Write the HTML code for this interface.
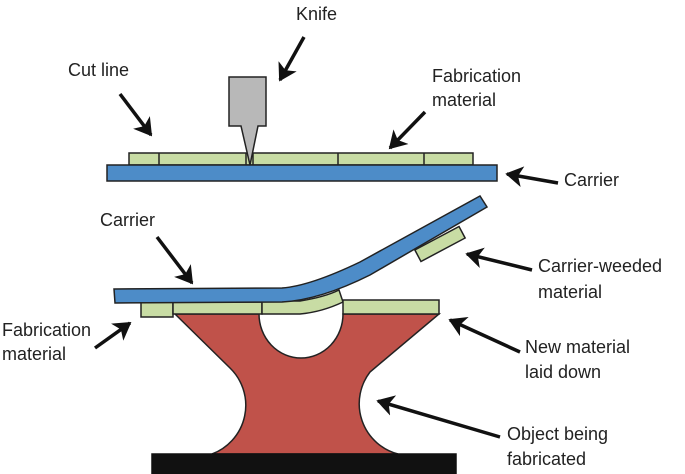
<!DOCTYPE html>
<html><head><meta charset="utf-8"><style>
html,body{margin:0;padding:0;background:#fff;}
svg{display:block;}
text{font-family:"Liberation Sans",sans-serif;font-size:18px;fill:#222;}
</style></head><body>
<svg width="685" height="474" viewBox="0 0 685 474" xmlns="http://www.w3.org/2000/svg">
<defs>
<marker id="a" markerWidth="6" markerHeight="6" refX="4.5" refY="3" orient="auto" markerUnits="strokeWidth">
<path d="M0,0 L5,3 L0,6 L1.3,3 Z" fill="#111"/>
</marker>
</defs>
<g stroke="#222" stroke-width="1.5">
<rect x="129" y="153" width="344" height="12" fill="#c8dca4"/>
<line x1="159" y1="153" x2="159" y2="165"/>
<line x1="246" y1="153" x2="246" y2="165"/>
<line x1="253" y1="153" x2="253" y2="165"/>
<line x1="338" y1="153" x2="338" y2="165"/>
<line x1="424" y1="153" x2="424" y2="165"/>
<rect x="107" y="165" width="390" height="16" fill="#4d8cc8"/>
<path d="M229,77 H266 V126 H258 L250,165 L241,126 H229 Z" fill="#b8b8b8"/>
<path d="M175,314 L230,368 A52,52 0 0 1 212,454 L398,454 A52,52 0 0 1 370,372 L439,314 L343,314 A42,44 0 0 1 259,314 Z" fill="#c0524a"/>
<rect x="152" y="454" width="304" height="20" fill="#111" stroke="#111"/>
<rect x="141" y="302" width="32" height="15" fill="#c8dca4"/>
<rect x="173" y="302" width="89" height="12" fill="#c8dca4"/>
<path d="M262,301 L300,301 Q325,297 339,290 L343,302 Q322,312 300,314 L262,314 Z" fill="#c8dca4"/>
<rect x="343" y="300" width="96" height="14" fill="#c8dca4"/>
<rect x="-25" y="-6.5" width="50" height="13" fill="#c8dca4" transform="translate(440,244) rotate(-28)"/>
<path d="M114,289 L282,288 Q310,286 360,262 L480,196 L487,207 L370,275 Q320,300 282,302 L115,303 Z" fill="#4d8cc8"/>
</g>
<g stroke="#111" stroke-width="3.5" fill="none" marker-end="url(#a)">
<line x1="304" y1="37" x2="280" y2="80"/>
<line x1="120" y1="94" x2="151" y2="135"/>
<line x1="425" y1="112" x2="390" y2="148"/>
<line x1="558" y1="183" x2="507" y2="174"/>
<line x1="157" y1="237" x2="192" y2="283"/>
<line x1="532" y1="270" x2="467" y2="254"/>
<line x1="95" y1="348" x2="130" y2="323"/>
<line x1="520" y1="352" x2="450" y2="320"/>
<line x1="500" y1="437" x2="378" y2="401"/>
</g>
<text x="296" y="20">Knife</text>
<text x="68" y="76">Cut line</text>
<text x="432" y="82">Fabrication</text>
<text x="432" y="106">material</text>
<text x="564" y="186">Carrier</text>
<text x="100" y="226">Carrier</text>
<text x="538" y="272">Carrier-weeded</text>
<text x="538" y="298">material</text>
<text x="2" y="336">Fabrication</text>
<text x="2" y="360">material</text>
<text x="525" y="353">New material</text>
<text x="525" y="378">laid down</text>
<text x="507" y="440">Object being</text>
<text x="507" y="465">fabricated</text>
</svg>
</body></html>
